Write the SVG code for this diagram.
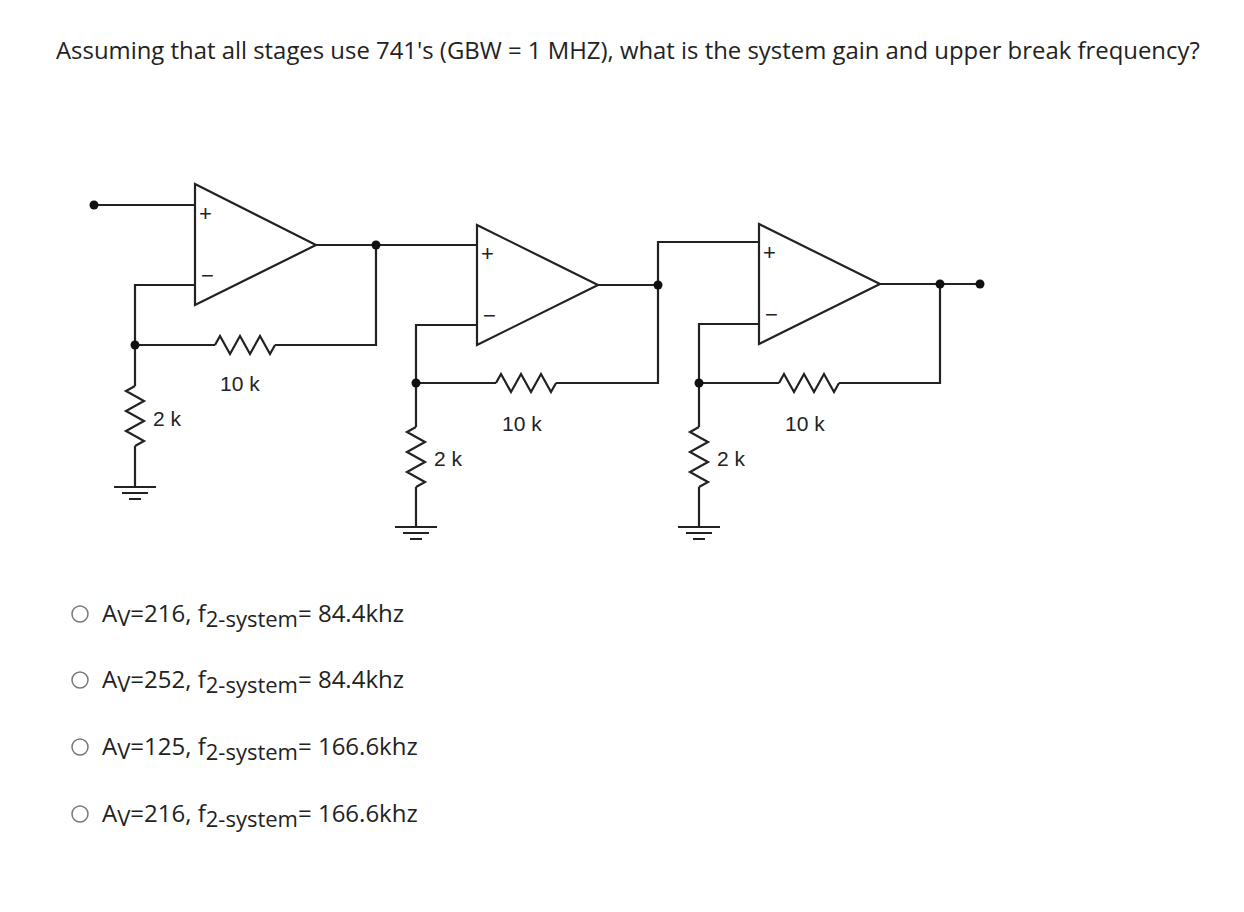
<svg xmlns="http://www.w3.org/2000/svg" width="1244" height="912" viewBox="0 0 1244 912">
<style>
.w{fill:none;stroke:#222;stroke-width:2.2;stroke-linejoin:miter}
.d{fill:#111}
.l{font-family:Arial,"Liberation Sans",sans-serif;font-size:21px;fill:#222}
.p{font-family:Arial,"Liberation Sans",sans-serif;font-size:22px;fill:#222}
.q{font-family:"Open Sans",sans-serif;font-size:23.9px;fill:#222}
.o{font-family:"Open Sans",sans-serif;font-size:24px;fill:#222}
.s{font-size:22px}
.c{fill:#fff;stroke:#777;stroke-width:1.5}
</style>
<defs>
<path id="rh" d="M0 0 l5 -9 l10 18 l10 -18 l10 18 l10 -18 l10 18 l5 -9" class="w"/>
<path id="rv" d="M0 0 l-9 5 l18 10 l-18 10 l18 10 l-18 10 l18 10 l-9 5" class="w"/>
<g id="gnd"><path d="M-21 0 h42 M-13 6 h26 M-6 12 h12" class="w"/></g>
</defs>
<rect width="1244" height="912" fill="#fff"/>
<text x="56" y="59" class="q">Assuming that all stages use 741's (GBW = 1 MHZ), what is the system gain and upper break frequency?</text>
<g id="opamp1"><path d="M195 184 L316 245 L195 305 Z" class="w"/><text x="199" y="221" class="p">+</text><text x="201" y="283" class="p">−</text></g>
<g id="opamp2"><path d="M477 225 L598 285 L477 345 Z" class="w"/><text x="481" y="261" class="p">+</text><text x="483" y="323" class="p">−</text></g>
<g id="opamp3"><path d="M759 224 L880 284 L759 344 Z" class="w"/><text x="763" y="260" class="p">+</text><text x="765" y="322" class="p">−</text></g>
<g id="connectors">
<path d="M94 205 H195 M195 285 H135 V386 M135 345 H215 M275 345 H376 V245 M316 245 H477" class="w"/>
<path d="M135 446 V487 M416 383 V427 M416 487 V527 M699 383 V427 M699 487 V527" class="w"/>
<path d="M477 325 H416 V383 H496 M556 383 H658 V285 M598 285 H658 V242 H759" class="w"/>
<path d="M759 324 H699 V383 H779 M839 383 H940 V284 M880 284 H980" class="w"/>
<circle cx="94" cy="205" r="4.5" class="d"/><circle cx="376" cy="245" r="4.5" class="d"/><circle cx="135" cy="345" r="4.5" class="d"/>
<circle cx="416" cy="383" r="4.5" class="d"/><circle cx="658" cy="285" r="4.5" class="d"/><circle cx="699" cy="383" r="4.5" class="d"/>
<circle cx="940" cy="284" r="4.5" class="d"/><circle cx="980" cy="284" r="4.5" class="d"/>
</g>
<g id="r1f"><use href="#rh" x="215" y="345"/><text x="220" y="391" class="l">10 k</text></g>
<g id="r1g"><use href="#rv" x="135" y="386"/><text x="153" y="426" class="l">2 k</text><use href="#gnd" x="135" y="487"/></g>
<g id="r2f"><use href="#rh" x="496" y="383"/><text x="502" y="431" class="l">10 k</text></g>
<g id="r2g"><use href="#rv" x="416" y="427"/><text x="434" y="466" class="l">2 k</text><use href="#gnd" x="416" y="527"/></g>
<g id="r3f"><use href="#rh" x="779" y="383"/><text x="785" y="431" class="l">10 k</text></g>
<g id="r3g"><use href="#rv" x="699" y="427"/><text x="717" y="466" class="l">2 k</text><use href="#gnd" x="699" y="527"/></g>
<g id="options">
<circle cx="80" cy="614" r="8" class="c"/><text x="102" y="622" class="o">A<tspan class="s" dy="4">V</tspan><tspan dy="-4">=216, f</tspan><tspan class="s" dy="5">2-system</tspan><tspan dy="-5">= 84.4khz</tspan></text>
<circle cx="80" cy="680" r="8" class="c"/><text x="102" y="688" class="o">A<tspan class="s" dy="4">V</tspan><tspan dy="-4">=252, f</tspan><tspan class="s" dy="5">2-system</tspan><tspan dy="-5">= 84.4khz</tspan></text>
<circle cx="80" cy="747" r="8" class="c"/><text x="102" y="755" class="o">A<tspan class="s" dy="4">V</tspan><tspan dy="-4">=125, f</tspan><tspan class="s" dy="5">2-system</tspan><tspan dy="-5">= 166.6khz</tspan></text>
<circle cx="80" cy="814" r="8" class="c"/><text x="102" y="822" class="o">A<tspan class="s" dy="4">V</tspan><tspan dy="-4">=216, f</tspan><tspan class="s" dy="5">2-system</tspan><tspan dy="-5">= 166.6khz</tspan></text>
</g>
</svg>
